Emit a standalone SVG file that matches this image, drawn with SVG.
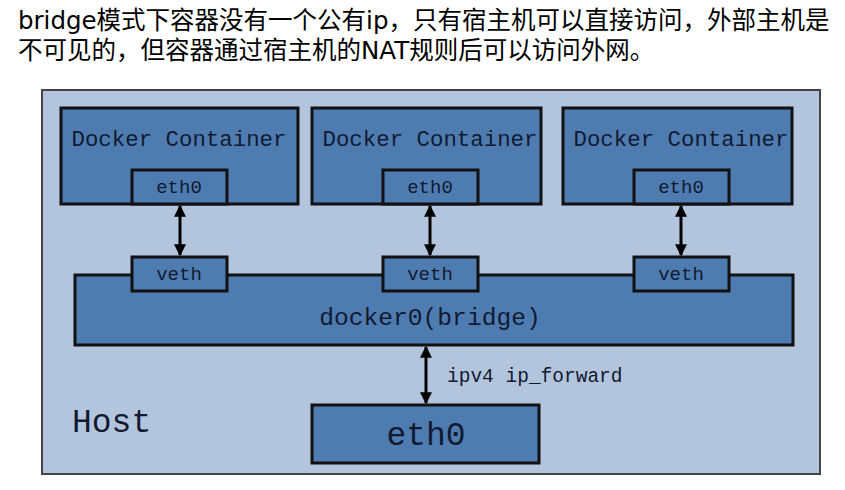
<svg xmlns="http://www.w3.org/2000/svg" width="845" height="490" viewBox="0 0 845 490">
<style>
.box{fill:#4f7cb0;stroke:#111;stroke-width:3}
.t{font-family:"Liberation Mono","Noto Sans CJK SC",monospace;fill:#111a30}
.h{font-family:"DejaVu Sans","Noto Sans CJK SC",sans-serif;font-size:24.5px;fill:#000}
.c{stroke:#000;stroke-width:3;fill:none;marker-start:url(#a);marker-end:url(#a)}
</style>
<defs><marker id="a" viewBox="0 0 10 10" refX="9" refY="5" markerWidth="4" markerHeight="4.5" orient="auto-start-reverse"><path d="M0,0L10,5L0,10z" fill="#000"/></marker></defs>
<rect width="845" height="490" fill="#fff"/>
<text class="h" x="18" y="29">bridge模式下容器没有一个公有ip，只有宿主机可以直接访问，外部主机是</text>
<text class="h" x="18" y="59">不可见的，但容器通过宿主机的NAT规则后可以访问外网。</text>
<g id="host"><rect x="42" y="90" width="778" height="384" fill="#b3c5dc" stroke="#444" stroke-width="2"/>
<text class="t" x="72" y="432" font-size="33">Host</text></g>
<g id="c1"><rect class="box" x="61" y="108" width="237" height="96"/><text class="t" x="179" y="146" font-size="22.4" text-anchor="middle">Docker Container</text>
<rect class="box" x="132" y="170" width="95" height="34"/><text class="t" x="179" y="193" font-size="19" text-anchor="middle">eth0</text></g>
<g id="c2"><rect class="box" x="312" y="108" width="229" height="96"/><text class="t" x="430" y="146" font-size="22.4" text-anchor="middle">Docker Container</text>
<rect class="box" x="383" y="170" width="95" height="34"/><text class="t" x="430" y="193" font-size="19" text-anchor="middle">eth0</text></g>
<g id="c3"><rect class="box" x="563" y="108" width="229" height="96"/><text class="t" x="681" y="146" font-size="22.4" text-anchor="middle">Docker Container</text>
<rect class="box" x="634" y="170" width="95" height="34"/><text class="t" x="681" y="193" font-size="19" text-anchor="middle">eth0</text></g>
<g id="bridge"><rect class="box" x="75" y="275" width="718" height="70"/><text class="t" x="430" y="325" font-size="24.6" text-anchor="middle">docker0(bridge)</text>
<rect class="box" x="132" y="257" width="95" height="34"/><text class="t" x="179" y="280" font-size="19" text-anchor="middle">veth</text>
<rect class="box" x="383" y="257" width="95" height="34"/><text class="t" x="430" y="280" font-size="19" text-anchor="middle">veth</text>
<rect class="box" x="634" y="257" width="95" height="34"/><text class="t" x="681" y="280" font-size="19" text-anchor="middle">veth</text></g>
<g id="heth0"><rect class="box" x="312" y="405" width="227" height="58"/><text class="t" x="426" y="445" font-size="33" text-anchor="middle">eth0</text></g>
<g id="connectors">
<line class="c" x1="180" y1="206" x2="180" y2="255"/>
<line class="c" x1="430" y1="206" x2="430" y2="255"/>
<line class="c" x1="681" y1="206" x2="681" y2="255"/>
<line class="c" x1="426" y1="347" x2="426" y2="403"/>
<text class="t" x="447" y="382" font-size="19.5">ipv4 ip_forward</text>
</g>
</svg>
